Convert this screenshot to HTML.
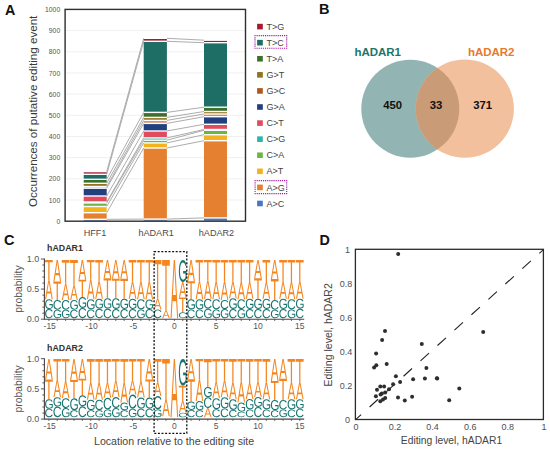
<!DOCTYPE html>
<html><head><meta charset="utf-8"><style>
html,body{margin:0;padding:0;background:#fff;}
svg{display:block;font-family:"Liberation Sans", sans-serif;}
</style></head><body>
<svg width="550" height="451" viewBox="0 0 550 451">
<defs><path id="gA" d="M856.4 1000 737.8 707.6H265.1L145.8 1000H0L423.4 -0H583.2L1000 1000ZM501.5 102.2 494.8 122.1Q476.4 181 440.4 273.2L307.8 601.8H695.9L562.6 271.8Q542 222.9 521.4 161.1Z"/><path id="gC" d="M530.5 107.6Q350 107.6 249.8 211.4Q149.6 315.2 149.6 495.9Q149.6 674.5 254 783.1Q358.5 891.7 536.6 891.7Q764.8 891.7 879.7 689.7L1000 743.4Q932.9 869 811.5 934.5Q690.1 1000 529.7 1000Q365.5 1000 245.6 939Q125.7 877.9 62.8 764.5Q0 651 0 495.9Q0 263.4 140.3 131.7Q280.6 0 528.9 0Q702.4 0 818.8 60.7Q935.2 121.4 990 240.7L850.4 282.1Q812.6 197.2 729 152.4Q645.3 107.6 530.5 107.6Z"/><path id="gG" d="M0 495.9Q0 259.3 137.6 129.7Q275.2 0 524.3 0Q699.3 0 808.5 54.5Q917.7 109 976.8 229L840.7 266.2Q795.8 183.4 716.9 145.5Q638 107.6 520.6 107.6Q338.1 107.6 241.6 209.3Q145.1 311 145.1 495.9Q145.1 680 247.6 786.6Q350 893.1 531 893.1Q634.3 893.1 723.6 864.1Q813 835.2 868.4 785.5V610.3H553.5V500H1000V835.2Q916.2 913.8 794.7 956.9Q673.1 1000 531 1000Q365.7 1000 246.1 939.3Q126.4 878.6 63.2 764.5Q0 650.3 0 495.9Z"/><path id="gT" d="M582 110.7V1000H418V110.7H0V-0H1000V110.7Z"/></defs>
<rect width="550" height="451" fill="#fff"/>
<line x1="65.1" y1="200.02" x2="245.5" y2="200.02" stroke="#ececec" stroke-width="0.8"/>
<line x1="65.1" y1="178.84" x2="245.5" y2="178.84" stroke="#ececec" stroke-width="0.8"/>
<line x1="65.1" y1="157.66" x2="245.5" y2="157.66" stroke="#ececec" stroke-width="0.8"/>
<line x1="65.1" y1="136.48" x2="245.5" y2="136.48" stroke="#ececec" stroke-width="0.8"/>
<line x1="65.1" y1="115.3" x2="245.5" y2="115.3" stroke="#ececec" stroke-width="0.8"/>
<line x1="65.1" y1="94.12" x2="245.5" y2="94.12" stroke="#ececec" stroke-width="0.8"/>
<line x1="65.1" y1="72.94" x2="245.5" y2="72.94" stroke="#ececec" stroke-width="0.8"/>
<line x1="65.1" y1="51.76" x2="245.5" y2="51.76" stroke="#ececec" stroke-width="0.8"/>
<line x1="65.1" y1="30.58" x2="245.5" y2="30.58" stroke="#ececec" stroke-width="0.8"/>
<line x1="106.7" y1="171.6" x2="143.7" y2="38.3" stroke="#a3a3a3" stroke-width="0.9"/>
<line x1="106.7" y1="174.3" x2="143.7" y2="41.3" stroke="#a3a3a3" stroke-width="0.9"/>
<line x1="106.7" y1="179.3" x2="143.7" y2="112.4" stroke="#a3a3a3" stroke-width="0.9"/>
<line x1="106.7" y1="183.3" x2="143.7" y2="117.4" stroke="#a3a3a3" stroke-width="0.9"/>
<line x1="106.7" y1="186.5" x2="143.7" y2="120.4" stroke="#a3a3a3" stroke-width="0.9"/>
<line x1="106.7" y1="188.2" x2="143.7" y2="123.4" stroke="#a3a3a3" stroke-width="0.9"/>
<line x1="106.7" y1="196" x2="143.7" y2="131" stroke="#a3a3a3" stroke-width="0.9"/>
<line x1="106.7" y1="202" x2="143.7" y2="137.9" stroke="#a3a3a3" stroke-width="0.9"/>
<line x1="106.7" y1="202.9" x2="143.7" y2="140.2" stroke="#a3a3a3" stroke-width="0.9"/>
<line x1="106.7" y1="206.5" x2="143.7" y2="142.9" stroke="#a3a3a3" stroke-width="0.9"/>
<line x1="106.7" y1="212.7" x2="143.7" y2="148" stroke="#a3a3a3" stroke-width="0.9"/>
<line x1="106.7" y1="219.3" x2="143.7" y2="219.1" stroke="#a3a3a3" stroke-width="0.9"/>
<line x1="166.9" y1="38.3" x2="204" y2="40.2" stroke="#a3a3a3" stroke-width="0.9"/>
<line x1="166.9" y1="41.3" x2="204" y2="42.7" stroke="#a3a3a3" stroke-width="0.9"/>
<line x1="166.9" y1="112.4" x2="204" y2="107.2" stroke="#a3a3a3" stroke-width="0.9"/>
<line x1="166.9" y1="117.4" x2="204" y2="111.5" stroke="#a3a3a3" stroke-width="0.9"/>
<line x1="166.9" y1="120.4" x2="204" y2="114" stroke="#a3a3a3" stroke-width="0.9"/>
<line x1="166.9" y1="123.4" x2="204" y2="116.7" stroke="#a3a3a3" stroke-width="0.9"/>
<line x1="166.9" y1="131" x2="204" y2="124.3" stroke="#a3a3a3" stroke-width="0.9"/>
<line x1="166.9" y1="137.9" x2="204" y2="129.5" stroke="#a3a3a3" stroke-width="0.9"/>
<line x1="166.9" y1="140.2" x2="204" y2="130.3" stroke="#a3a3a3" stroke-width="0.9"/>
<line x1="166.9" y1="142.9" x2="204" y2="134.7" stroke="#a3a3a3" stroke-width="0.9"/>
<line x1="166.9" y1="148" x2="204" y2="140.7" stroke="#a3a3a3" stroke-width="0.9"/>
<line x1="166.9" y1="219.1" x2="204" y2="217.9" stroke="#a3a3a3" stroke-width="0.9"/>
<rect x="83.7" y="172.3" width="23" height="1.3" fill="#a51b2d"/>
<rect x="83.7" y="175" width="23" height="3.6" fill="#1f6e66"/>
<rect x="83.7" y="180" width="23" height="2.6" fill="#3e6f2d"/>
<rect x="83.7" y="184" width="23" height="1.8" fill="#8f7222"/>
<rect x="83.7" y="187.2" width="23" height="0.3" fill="#d98a62"/>
<rect x="83.7" y="188.9" width="23" height="6.4" fill="#223f80"/>
<rect x="83.7" y="196.7" width="23" height="4.6" fill="#e04b5e"/>
<rect x="83.7" y="203.6" width="23" height="2.2" fill="#6cb645"/>
<rect x="83.7" y="207.2" width="23" height="4.8" fill="#f2b31f"/>
<rect x="83.7" y="213.4" width="23" height="5.2" fill="#e4802f"/>
<rect x="83.7" y="220" width="23" height="0.7" fill="#4677c6"/>
<rect x="143.7" y="39" width="23.2" height="1.6" fill="#a51b2d"/>
<rect x="143.7" y="42" width="23.2" height="69.7" fill="#1f6e66"/>
<rect x="143.7" y="113.1" width="23.2" height="3.6" fill="#3e6f2d"/>
<rect x="143.7" y="118.1" width="23.2" height="1.6" fill="#8f7222"/>
<rect x="143.7" y="121.1" width="23.2" height="1.6" fill="#d98a62"/>
<rect x="143.7" y="124.1" width="23.2" height="6.2" fill="#223f80"/>
<rect x="143.7" y="131.7" width="23.2" height="5.5" fill="#e04b5e"/>
<rect x="143.7" y="138.6" width="23.2" height="0.9" fill="#2bb5ad"/>
<rect x="143.7" y="140.9" width="23.2" height="1.3" fill="#6cb645"/>
<rect x="143.7" y="143.6" width="23.2" height="3.7" fill="#f2b31f"/>
<rect x="143.7" y="148.7" width="23.2" height="69.7" fill="#e4802f"/>
<rect x="143.7" y="219.8" width="23.2" height="0.9" fill="#4677c6"/>
<rect x="204" y="40.9" width="23" height="1.1" fill="#a51b2d"/>
<rect x="204" y="43.4" width="23" height="63.1" fill="#1f6e66"/>
<rect x="204" y="107.9" width="23" height="2.9" fill="#3e6f2d"/>
<rect x="204" y="112.2" width="23" height="1.1" fill="#8f7222"/>
<rect x="204" y="114.7" width="23" height="1.3" fill="#d98a62"/>
<rect x="204" y="117.4" width="23" height="6.2" fill="#223f80"/>
<rect x="204" y="125" width="23" height="3.8" fill="#e04b5e"/>
<rect x="204" y="131" width="23" height="3" fill="#6cb645"/>
<rect x="204" y="135.4" width="23" height="4.6" fill="#f2b31f"/>
<rect x="204" y="141.4" width="23" height="75.8" fill="#e4802f"/>
<rect x="204" y="218.6" width="23" height="2.1" fill="#4677c6"/>
<rect x="65.1" y="9.4" width="180.4" height="211.8" fill="none" stroke="#2e2e2e" stroke-width="1.4"/>
<text x="60.2" y="223.8" font-size="6.8" fill="#555" text-anchor="end">0</text>
<text x="60.2" y="202.62" font-size="6.8" fill="#555" text-anchor="end">100</text>
<text x="60.2" y="181.44" font-size="6.8" fill="#555" text-anchor="end">200</text>
<text x="60.2" y="160.26" font-size="6.8" fill="#555" text-anchor="end">300</text>
<text x="60.2" y="139.08" font-size="6.8" fill="#555" text-anchor="end">400</text>
<text x="60.2" y="117.9" font-size="6.8" fill="#555" text-anchor="end">500</text>
<text x="60.2" y="96.72" font-size="6.8" fill="#555" text-anchor="end">600</text>
<text x="60.2" y="75.54" font-size="6.8" fill="#555" text-anchor="end">700</text>
<text x="60.2" y="54.36" font-size="6.8" fill="#555" text-anchor="end">800</text>
<text x="60.2" y="33.18" font-size="6.8" fill="#555" text-anchor="end">900</text>
<text x="60.2" y="12" font-size="6.8" fill="#555" text-anchor="end">1000</text>
<text transform="translate(37.3 111.4) rotate(-90)" font-size="11.6" fill="#3a3a3a" text-anchor="middle">Occurrences of putative editing event</text>
<text x="95" y="235.9" font-size="9.1" fill="#4a4a4a" text-anchor="middle">HFF1</text>
<text x="156.1" y="235.9" font-size="9.1" fill="#4a4a4a" text-anchor="middle">hADAR1</text>
<text x="216.5" y="235.9" font-size="9.1" fill="#4a4a4a" text-anchor="middle">hADAR2</text>
<rect x="257.1" y="23.8" width="5.7" height="5.6" fill="#a51b2d"/>
<text x="266.6" y="29.7" font-size="9" fill="#444">T&gt;G</text>
<rect x="257.1" y="39.88" width="5.7" height="5.6" fill="#1f6e66"/>
<text x="266.6" y="45.78" font-size="9" fill="#444">T&gt;C</text>
<rect x="257.1" y="55.96" width="5.7" height="5.6" fill="#3e6f2d"/>
<text x="266.6" y="61.86" font-size="9" fill="#444">T&gt;A</text>
<rect x="257.1" y="72.04" width="5.7" height="5.6" fill="#8f7222"/>
<text x="266.6" y="77.94" font-size="9" fill="#444">G&gt;T</text>
<rect x="257.1" y="88.12" width="5.7" height="5.6" fill="#b0581f"/>
<text x="266.6" y="94.02" font-size="9" fill="#444">G&gt;C</text>
<rect x="257.1" y="104.2" width="5.7" height="5.6" fill="#223f80"/>
<text x="266.6" y="110.1" font-size="9" fill="#444">G&gt;A</text>
<rect x="257.1" y="120.28" width="5.7" height="5.6" fill="#e04b5e"/>
<text x="266.6" y="126.18" font-size="9" fill="#444">C&gt;T</text>
<rect x="257.1" y="136.36" width="5.7" height="5.6" fill="#2bb5ad"/>
<text x="266.6" y="142.26" font-size="9" fill="#444">C&gt;G</text>
<rect x="257.1" y="152.44" width="5.7" height="5.6" fill="#6cb645"/>
<text x="266.6" y="158.34" font-size="9" fill="#444">C&gt;A</text>
<rect x="257.1" y="168.52" width="5.7" height="5.6" fill="#f2b31f"/>
<text x="266.6" y="174.42" font-size="9" fill="#444">A&gt;T</text>
<rect x="257.1" y="184.6" width="5.7" height="5.6" fill="#e4802f"/>
<text x="266.6" y="190.5" font-size="9" fill="#444">A&gt;G</text>
<rect x="257.1" y="200.68" width="5.7" height="5.6" fill="#4677c6"/>
<text x="266.6" y="206.58" font-size="9" fill="#444">A&gt;C</text>
<path d="M254.43 35.12h1.15v1.15h-1.15zM254.43 47.72h1.15v1.15h-1.15zM256.54 35.12h1.15v1.15h-1.15zM256.54 47.72h1.15v1.15h-1.15zM258.65 35.12h1.15v1.15h-1.15zM258.65 47.72h1.15v1.15h-1.15zM260.76 35.12h1.15v1.15h-1.15zM260.76 47.72h1.15v1.15h-1.15zM262.88 35.12h1.15v1.15h-1.15zM262.88 47.72h1.15v1.15h-1.15zM264.99 35.12h1.15v1.15h-1.15zM264.99 47.72h1.15v1.15h-1.15zM267.11 35.12h1.15v1.15h-1.15zM267.11 47.72h1.15v1.15h-1.15zM269.22 35.12h1.15v1.15h-1.15zM269.22 47.72h1.15v1.15h-1.15zM271.33 35.12h1.15v1.15h-1.15zM271.33 47.72h1.15v1.15h-1.15zM273.44 35.12h1.15v1.15h-1.15zM273.44 47.72h1.15v1.15h-1.15zM275.56 35.12h1.15v1.15h-1.15zM275.56 47.72h1.15v1.15h-1.15zM277.67 35.12h1.15v1.15h-1.15zM277.67 47.72h1.15v1.15h-1.15zM279.79 35.12h1.15v1.15h-1.15zM279.79 47.72h1.15v1.15h-1.15zM281.9 35.12h1.15v1.15h-1.15zM281.9 47.72h1.15v1.15h-1.15zM284.01 35.12h1.15v1.15h-1.15zM284.01 47.72h1.15v1.15h-1.15zM286.12 35.12h1.15v1.15h-1.15zM286.12 47.72h1.15v1.15h-1.15zM254.43 37.23h1.15v1.15h-1.15zM286.12 37.23h1.15v1.15h-1.15zM254.43 39.32h1.15v1.15h-1.15zM286.12 39.32h1.15v1.15h-1.15zM254.43 41.42h1.15v1.15h-1.15zM286.12 41.42h1.15v1.15h-1.15zM254.43 43.52h1.15v1.15h-1.15zM286.12 43.52h1.15v1.15h-1.15zM254.43 45.62h1.15v1.15h-1.15zM286.12 45.62h1.15v1.15h-1.15z" fill="#a3199f"/>
<path d="M254.53 180.12h1.15v1.15h-1.15zM254.53 193.12h1.15v1.15h-1.15zM256.63 180.12h1.15v1.15h-1.15zM256.63 193.12h1.15v1.15h-1.15zM258.74 180.12h1.15v1.15h-1.15zM258.74 193.12h1.15v1.15h-1.15zM260.85 180.12h1.15v1.15h-1.15zM260.85 193.12h1.15v1.15h-1.15zM262.95 180.12h1.15v1.15h-1.15zM262.95 193.12h1.15v1.15h-1.15zM265.06 180.12h1.15v1.15h-1.15zM265.06 193.12h1.15v1.15h-1.15zM267.17 180.12h1.15v1.15h-1.15zM267.17 193.12h1.15v1.15h-1.15zM269.27 180.12h1.15v1.15h-1.15zM269.27 193.12h1.15v1.15h-1.15zM271.38 180.12h1.15v1.15h-1.15zM271.38 193.12h1.15v1.15h-1.15zM273.49 180.12h1.15v1.15h-1.15zM273.49 193.12h1.15v1.15h-1.15zM275.59 180.12h1.15v1.15h-1.15zM275.59 193.12h1.15v1.15h-1.15zM277.7 180.12h1.15v1.15h-1.15zM277.7 193.12h1.15v1.15h-1.15zM279.81 180.12h1.15v1.15h-1.15zM279.81 193.12h1.15v1.15h-1.15zM281.91 180.12h1.15v1.15h-1.15zM281.91 193.12h1.15v1.15h-1.15zM284.02 180.12h1.15v1.15h-1.15zM284.02 193.12h1.15v1.15h-1.15zM286.12 180.12h1.15v1.15h-1.15zM286.12 193.12h1.15v1.15h-1.15zM254.53 182.29h1.15v1.15h-1.15zM286.12 182.29h1.15v1.15h-1.15zM254.53 184.46h1.15v1.15h-1.15zM286.12 184.46h1.15v1.15h-1.15zM254.53 186.62h1.15v1.15h-1.15zM286.12 186.62h1.15v1.15h-1.15zM254.53 188.79h1.15v1.15h-1.15zM286.12 188.79h1.15v1.15h-1.15zM254.53 190.96h1.15v1.15h-1.15zM286.12 190.96h1.15v1.15h-1.15z" fill="#a3199f"/>
<text x="4.9" y="14.6" font-size="14.3" font-weight="bold" fill="#111">A</text>
<text x="319.1" y="14.4" font-size="14.5" font-weight="bold" fill="#111">B</text>
<circle cx="410.3" cy="108.7" r="49.0" fill="#92b5b3"/>
<circle cx="464.8" cy="108.7" r="49.1" fill="#f3c09e"/>
<clipPath id="clipL"><circle cx="410.3" cy="108.7" r="49.0"/></clipPath>
<circle cx="464.8" cy="108.7" r="49.1" fill="#c99c77" clip-path="url(#clipL)"/>
<text x="377.7" y="55.6" font-size="11.5" font-weight="bold" fill="#1d7469" text-anchor="middle">hADAR1</text>
<text x="491.2" y="55.6" font-size="11.5" font-weight="bold" fill="#e77a2c" text-anchor="middle">hADAR2</text>
<text x="392.6" y="109.4" font-size="11.3" font-weight="bold" fill="#111" text-anchor="middle">450</text>
<text x="436.0" y="109.4" font-size="11.3" font-weight="bold" fill="#111" text-anchor="middle">33</text>
<text x="482.7" y="109.4" font-size="11.3" font-weight="bold" fill="#111" text-anchor="middle">371</text>
<text x="4.0" y="244.9" font-size="14.5" font-weight="bold" fill="#111">C</text>
<use href="#gT" fill="#f5861f" transform="matrix(0.00770 0 0 0.02005 45.05 260.1)"/>
<use href="#gA" fill="#f5861f" transform="matrix(0.00770 0 0 0.01903 45.05 280.15)"/>
<use href="#gG" fill="#177571" transform="matrix(0.00770 0 0 0.00981 45.05 299.17)"/>
<use href="#gC" fill="#177571" transform="matrix(0.00770 0 0 0.00922 45.05 308.98)"/>
<use href="#gA" fill="#f5861f" transform="matrix(0.00770 0 0 0.02151 53.41 260.1)"/>
<use href="#gT" fill="#f5861f" transform="matrix(0.00770 0 0 0.01829 53.41 281.61)"/>
<use href="#gC" fill="#177571" transform="matrix(0.00770 0 0 0.00981 53.41 299.9)"/>
<use href="#gG" fill="#177571" transform="matrix(0.00770 0 0 0.00849 53.41 309.71)"/>
<use href="#gT" fill="#f5861f" transform="matrix(0.00770 0 0 0.02371 61.78 260.1)"/>
<use href="#gA" fill="#f5861f" transform="matrix(0.00770 0 0 0.01610 61.78 283.81)"/>
<use href="#gC" fill="#177571" transform="matrix(0.00770 0 0 0.00981 61.78 299.9)"/>
<use href="#gG" fill="#177571" transform="matrix(0.00770 0 0 0.00849 61.78 309.71)"/>
<use href="#gT" fill="#f5861f" transform="matrix(0.00770 0 0 0.02517 70.14 260.1)"/>
<use href="#gA" fill="#f5861f" transform="matrix(0.00770 0 0 0.01463 70.14 285.27)"/>
<use href="#gG" fill="#177571" transform="matrix(0.00770 0 0 0.00981 70.14 299.9)"/>
<use href="#gC" fill="#177571" transform="matrix(0.00770 0 0 0.00849 70.14 309.71)"/>
<use href="#gA" fill="#f5861f" transform="matrix(0.00770 0 0 0.01961 78.5 260.1)"/>
<use href="#gT" fill="#f5861f" transform="matrix(0.00770 0 0 0.01727 78.5 279.71)"/>
<use href="#gG" fill="#177571" transform="matrix(0.00770 0 0 0.01098 78.5 296.98)"/>
<use href="#gC" fill="#177571" transform="matrix(0.00770 0 0 0.01024 78.5 307.95)"/>
<use href="#gT" fill="#f5861f" transform="matrix(0.00770 0 0 0.01961 86.87 260.1)"/>
<use href="#gA" fill="#f5861f" transform="matrix(0.00770 0 0 0.01946 86.87 279.71)"/>
<use href="#gG" fill="#177571" transform="matrix(0.00770 0 0 0.01024 86.87 299.17)"/>
<use href="#gC" fill="#177571" transform="matrix(0.00770 0 0 0.00878 86.87 309.42)"/>
<use href="#gT" fill="#f5861f" transform="matrix(0.00770 0 0 0.02107 95.23 260.1)"/>
<use href="#gA" fill="#f5861f" transform="matrix(0.00770 0 0 0.01756 95.23 281.17)"/>
<use href="#gG" fill="#177571" transform="matrix(0.00770 0 0 0.00995 95.23 298.73)"/>
<use href="#gC" fill="#177571" transform="matrix(0.00770 0 0 0.00951 95.23 308.69)"/>
<use href="#gA" fill="#f5861f" transform="matrix(0.00770 0 0 0.01815 103.59 260.1)"/>
<use href="#gT" fill="#f5861f" transform="matrix(0.00770 0 0 0.01990 103.59 278.24)"/>
<use href="#gG" fill="#177571" transform="matrix(0.00770 0 0 0.01054 103.59 298.15)"/>
<use href="#gC" fill="#177571" transform="matrix(0.00770 0 0 0.00951 103.59 308.69)"/>
<use href="#gA" fill="#f5861f" transform="matrix(0.00770 0 0 0.01859 111.95 260.1)"/>
<use href="#gT" fill="#f5861f" transform="matrix(0.00770 0 0 0.01946 111.95 278.68)"/>
<use href="#gG" fill="#177571" transform="matrix(0.00770 0 0 0.01083 111.95 298.15)"/>
<use href="#gC" fill="#177571" transform="matrix(0.00770 0 0 0.00922 111.95 308.98)"/>
<use href="#gA" fill="#f5861f" transform="matrix(0.00770 0 0 0.01859 120.32 260.1)"/>
<use href="#gT" fill="#f5861f" transform="matrix(0.00770 0 0 0.02005 120.32 278.68)"/>
<use href="#gG" fill="#177571" transform="matrix(0.00770 0 0 0.01024 120.32 298.73)"/>
<use href="#gC" fill="#177571" transform="matrix(0.00770 0 0 0.00922 120.32 308.98)"/>
<use href="#gT" fill="#f5861f" transform="matrix(0.00770 0 0 0.02151 128.68 260.1)"/>
<use href="#gA" fill="#f5861f" transform="matrix(0.00770 0 0 0.01712 128.68 281.61)"/>
<use href="#gG" fill="#177571" transform="matrix(0.00770 0 0 0.01024 128.68 298.73)"/>
<use href="#gC" fill="#177571" transform="matrix(0.00770 0 0 0.00922 128.68 308.98)"/>
<use href="#gT" fill="#f5861f" transform="matrix(0.00770 0 0 0.02151 137.04 260.1)"/>
<use href="#gA" fill="#f5861f" transform="matrix(0.00770 0 0 0.01756 137.04 281.61)"/>
<use href="#gC" fill="#177571" transform="matrix(0.00770 0 0 0.01024 137.04 299.17)"/>
<use href="#gG" fill="#177571" transform="matrix(0.00770 0 0 0.00878 137.04 309.42)"/>
<use href="#gT" fill="#f5861f" transform="matrix(0.00770 0 0 0.02151 145.41 260.1)"/>
<use href="#gA" fill="#f5861f" transform="matrix(0.00770 0 0 0.01800 145.41 281.61)"/>
<use href="#gG" fill="#177571" transform="matrix(0.00770 0 0 0.00937 145.41 299.61)"/>
<use href="#gC" fill="#177571" transform="matrix(0.00770 0 0 0.00922 145.41 308.98)"/>
<use href="#gT" fill="#f5861f" transform="matrix(0.00770 0 0 0.03834 153.77 260.1)"/>
<use href="#gA" fill="#f5861f" transform="matrix(0.00770 0 0 0.01098 153.77 298.44)"/>
<use href="#gC" fill="#177571" transform="matrix(0.00770 0 0 0.00878 153.77 309.42)"/>
<use href="#gT" fill="#f5861f" transform="matrix(0.00770 0 0 0.05005 162.13 260.1)"/>
<use href="#gA" fill="#f5861f" transform="matrix(0.00770 0 0 0.00805 162.13 310.15)"/>
<use href="#gA" fill="#f5861f" transform="matrix(0.00770 0 0 0.05810 170.5 260.1)"/>
<use href="#gG" fill="#177571" transform="matrix(0.00770 0 0 0.02195 178.86 260.1)"/>
<use href="#gA" fill="#f5861f" transform="matrix(0.00770 0 0 0.01537 178.86 282.05)"/>
<use href="#gT" fill="#f5861f" transform="matrix(0.00770 0 0 0.01493 178.86 297.42)"/>
<use href="#gC" fill="#177571" transform="matrix(0.00770 0 0 0.00585 178.86 312.34)"/>
<use href="#gA" fill="#f5861f" transform="matrix(0.00770 0 0 0.02107 187.22 260.1)"/>
<use href="#gT" fill="#f5861f" transform="matrix(0.00770 0 0 0.01800 187.22 281.17)"/>
<use href="#gG" fill="#177571" transform="matrix(0.00770 0 0 0.01024 187.22 299.17)"/>
<use href="#gC" fill="#177571" transform="matrix(0.00770 0 0 0.00878 187.22 309.42)"/>
<use href="#gT" fill="#f5861f" transform="matrix(0.00770 0 0 0.02107 195.58 260.1)"/>
<use href="#gA" fill="#f5861f" transform="matrix(0.00770 0 0 0.01800 195.58 281.17)"/>
<use href="#gG" fill="#177571" transform="matrix(0.00770 0 0 0.01024 195.58 299.17)"/>
<use href="#gC" fill="#177571" transform="matrix(0.00770 0 0 0.00878 195.58 309.42)"/>
<use href="#gT" fill="#f5861f" transform="matrix(0.00770 0 0 0.02049 203.95 260.1)"/>
<use href="#gA" fill="#f5861f" transform="matrix(0.00770 0 0 0.01815 203.95 280.59)"/>
<use href="#gC" fill="#177571" transform="matrix(0.00770 0 0 0.00995 203.95 298.73)"/>
<use href="#gG" fill="#177571" transform="matrix(0.00770 0 0 0.00951 203.95 308.69)"/>
<use href="#gT" fill="#f5861f" transform="matrix(0.00770 0 0 0.02151 212.31 260.1)"/>
<use href="#gA" fill="#f5861f" transform="matrix(0.00770 0 0 0.01756 212.31 281.61)"/>
<use href="#gC" fill="#177571" transform="matrix(0.00770 0 0 0.01024 212.31 299.17)"/>
<use href="#gG" fill="#177571" transform="matrix(0.00770 0 0 0.00878 212.31 309.42)"/>
<use href="#gT" fill="#f5861f" transform="matrix(0.00770 0 0 0.02151 220.67 260.1)"/>
<use href="#gA" fill="#f5861f" transform="matrix(0.00770 0 0 0.01829 220.67 281.61)"/>
<use href="#gC" fill="#177571" transform="matrix(0.00770 0 0 0.00907 220.67 299.9)"/>
<use href="#gG" fill="#177571" transform="matrix(0.00770 0 0 0.00922 220.67 308.98)"/>
<use href="#gT" fill="#f5861f" transform="matrix(0.00770 0 0 0.02151 229.04 260.1)"/>
<use href="#gA" fill="#f5861f" transform="matrix(0.00770 0 0 0.01654 229.04 281.61)"/>
<use href="#gG" fill="#177571" transform="matrix(0.00770 0 0 0.01083 229.04 298.15)"/>
<use href="#gC" fill="#177571" transform="matrix(0.00770 0 0 0.00922 229.04 308.98)"/>
<use href="#gT" fill="#f5861f" transform="matrix(0.00770 0 0 0.02195 237.4 260.1)"/>
<use href="#gA" fill="#f5861f" transform="matrix(0.00770 0 0 0.01712 237.4 282.05)"/>
<use href="#gC" fill="#177571" transform="matrix(0.00770 0 0 0.00981 237.4 299.17)"/>
<use href="#gG" fill="#177571" transform="matrix(0.00770 0 0 0.00922 237.4 308.98)"/>
<use href="#gT" fill="#f5861f" transform="matrix(0.00770 0 0 0.02195 245.76 260.1)"/>
<use href="#gA" fill="#f5861f" transform="matrix(0.00770 0 0 0.01668 245.76 282.05)"/>
<use href="#gG" fill="#177571" transform="matrix(0.00770 0 0 0.01024 245.76 298.73)"/>
<use href="#gC" fill="#177571" transform="matrix(0.00770 0 0 0.00922 245.76 308.98)"/>
<use href="#gA" fill="#f5861f" transform="matrix(0.00770 0 0 0.01815 254.12 260.1)"/>
<use href="#gT" fill="#f5861f" transform="matrix(0.00770 0 0 0.02049 254.12 278.24)"/>
<use href="#gG" fill="#177571" transform="matrix(0.00770 0 0 0.01024 254.12 298.73)"/>
<use href="#gC" fill="#177571" transform="matrix(0.00770 0 0 0.00922 254.12 308.98)"/>
<use href="#gT" fill="#f5861f" transform="matrix(0.00770 0 0 0.02195 262.49 260.1)"/>
<use href="#gA" fill="#f5861f" transform="matrix(0.00770 0 0 0.01668 262.49 282.05)"/>
<use href="#gG" fill="#177571" transform="matrix(0.00770 0 0 0.01024 262.49 298.73)"/>
<use href="#gC" fill="#177571" transform="matrix(0.00770 0 0 0.00922 262.49 308.98)"/>
<use href="#gA" fill="#f5861f" transform="matrix(0.00770 0 0 0.01903 270.85 260.1)"/>
<use href="#gT" fill="#f5861f" transform="matrix(0.00770 0 0 0.02078 270.85 279.12)"/>
<use href="#gC" fill="#177571" transform="matrix(0.00770 0 0 0.00981 270.85 299.9)"/>
<use href="#gG" fill="#177571" transform="matrix(0.00770 0 0 0.00849 270.85 309.71)"/>
<use href="#gT" fill="#f5861f" transform="matrix(0.00770 0 0 0.02195 279.21 260.1)"/>
<use href="#gA" fill="#f5861f" transform="matrix(0.00770 0 0 0.01668 279.21 282.05)"/>
<use href="#gG" fill="#177571" transform="matrix(0.00770 0 0 0.01024 279.21 298.73)"/>
<use href="#gC" fill="#177571" transform="matrix(0.00770 0 0 0.00922 279.21 308.98)"/>
<use href="#gT" fill="#f5861f" transform="matrix(0.00770 0 0 0.02195 287.58 260.1)"/>
<use href="#gA" fill="#f5861f" transform="matrix(0.00770 0 0 0.01712 287.58 282.05)"/>
<use href="#gC" fill="#177571" transform="matrix(0.00770 0 0 0.01024 287.58 299.17)"/>
<use href="#gG" fill="#177571" transform="matrix(0.00770 0 0 0.00878 287.58 309.42)"/>
<use href="#gT" fill="#f5861f" transform="matrix(0.00770 0 0 0.02107 295.94 260.1)"/>
<use href="#gA" fill="#f5861f" transform="matrix(0.00770 0 0 0.01756 295.94 281.17)"/>
<use href="#gG" fill="#177571" transform="matrix(0.00770 0 0 0.00995 295.94 298.73)"/>
<use href="#gC" fill="#177571" transform="matrix(0.00770 0 0 0.00951 295.94 308.69)"/>
<line x1="44.4" y1="258.5" x2="44.4" y2="319.2" stroke="#4d4242" stroke-width="1.1"/>
<line x1="43.9" y1="319.2" x2="304.2" y2="319.2" stroke="#4d4242" stroke-width="1.1"/>
<line x1="40.9" y1="319.2" x2="44.4" y2="319.2" stroke="#4d4242" stroke-width="0.9"/>
<line x1="42.4" y1="313.18" x2="44.4" y2="313.18" stroke="#4d4242" stroke-width="0.9"/>
<line x1="42.4" y1="307.16" x2="44.4" y2="307.16" stroke="#4d4242" stroke-width="0.9"/>
<line x1="42.4" y1="301.14" x2="44.4" y2="301.14" stroke="#4d4242" stroke-width="0.9"/>
<line x1="42.4" y1="295.12" x2="44.4" y2="295.12" stroke="#4d4242" stroke-width="0.9"/>
<line x1="40.9" y1="289.1" x2="44.4" y2="289.1" stroke="#4d4242" stroke-width="0.9"/>
<line x1="42.4" y1="283.08" x2="44.4" y2="283.08" stroke="#4d4242" stroke-width="0.9"/>
<line x1="42.4" y1="277.06" x2="44.4" y2="277.06" stroke="#4d4242" stroke-width="0.9"/>
<line x1="42.4" y1="271.04" x2="44.4" y2="271.04" stroke="#4d4242" stroke-width="0.9"/>
<line x1="42.4" y1="265.02" x2="44.4" y2="265.02" stroke="#4d4242" stroke-width="0.9"/>
<line x1="40.9" y1="259" x2="44.4" y2="259" stroke="#4d4242" stroke-width="0.9"/>
<line x1="48.9" y1="319.2" x2="48.9" y2="321" stroke="#4d4242" stroke-width="0.8"/>
<line x1="57.26" y1="319.2" x2="57.26" y2="321" stroke="#4d4242" stroke-width="0.8"/>
<line x1="65.63" y1="319.2" x2="65.63" y2="321" stroke="#4d4242" stroke-width="0.8"/>
<line x1="73.99" y1="319.2" x2="73.99" y2="321" stroke="#4d4242" stroke-width="0.8"/>
<line x1="82.35" y1="319.2" x2="82.35" y2="321" stroke="#4d4242" stroke-width="0.8"/>
<line x1="90.72" y1="319.2" x2="90.72" y2="321" stroke="#4d4242" stroke-width="0.8"/>
<line x1="99.08" y1="319.2" x2="99.08" y2="321" stroke="#4d4242" stroke-width="0.8"/>
<line x1="107.44" y1="319.2" x2="107.44" y2="321" stroke="#4d4242" stroke-width="0.8"/>
<line x1="115.8" y1="319.2" x2="115.8" y2="321" stroke="#4d4242" stroke-width="0.8"/>
<line x1="124.17" y1="319.2" x2="124.17" y2="321" stroke="#4d4242" stroke-width="0.8"/>
<line x1="132.53" y1="319.2" x2="132.53" y2="321" stroke="#4d4242" stroke-width="0.8"/>
<line x1="140.89" y1="319.2" x2="140.89" y2="321" stroke="#4d4242" stroke-width="0.8"/>
<line x1="149.26" y1="319.2" x2="149.26" y2="321" stroke="#4d4242" stroke-width="0.8"/>
<line x1="157.62" y1="319.2" x2="157.62" y2="321" stroke="#4d4242" stroke-width="0.8"/>
<line x1="165.98" y1="319.2" x2="165.98" y2="321" stroke="#4d4242" stroke-width="0.8"/>
<line x1="174.34" y1="319.2" x2="174.34" y2="321" stroke="#4d4242" stroke-width="0.8"/>
<line x1="182.71" y1="319.2" x2="182.71" y2="321" stroke="#4d4242" stroke-width="0.8"/>
<line x1="191.07" y1="319.2" x2="191.07" y2="321" stroke="#4d4242" stroke-width="0.8"/>
<line x1="199.43" y1="319.2" x2="199.43" y2="321" stroke="#4d4242" stroke-width="0.8"/>
<line x1="207.8" y1="319.2" x2="207.8" y2="321" stroke="#4d4242" stroke-width="0.8"/>
<line x1="216.16" y1="319.2" x2="216.16" y2="321" stroke="#4d4242" stroke-width="0.8"/>
<line x1="224.52" y1="319.2" x2="224.52" y2="321" stroke="#4d4242" stroke-width="0.8"/>
<line x1="232.89" y1="319.2" x2="232.89" y2="321" stroke="#4d4242" stroke-width="0.8"/>
<line x1="241.25" y1="319.2" x2="241.25" y2="321" stroke="#4d4242" stroke-width="0.8"/>
<line x1="249.61" y1="319.2" x2="249.61" y2="321" stroke="#4d4242" stroke-width="0.8"/>
<line x1="257.97" y1="319.2" x2="257.97" y2="321" stroke="#4d4242" stroke-width="0.8"/>
<line x1="266.34" y1="319.2" x2="266.34" y2="321" stroke="#4d4242" stroke-width="0.8"/>
<line x1="274.7" y1="319.2" x2="274.7" y2="321" stroke="#4d4242" stroke-width="0.8"/>
<line x1="283.06" y1="319.2" x2="283.06" y2="321" stroke="#4d4242" stroke-width="0.8"/>
<line x1="291.43" y1="319.2" x2="291.43" y2="321" stroke="#4d4242" stroke-width="0.8"/>
<line x1="299.79" y1="319.2" x2="299.79" y2="321" stroke="#4d4242" stroke-width="0.8"/>
<text x="39.2" y="322.4" font-size="9" fill="#555" text-anchor="end">0.0</text>
<text x="39.2" y="292.3" font-size="9" fill="#555" text-anchor="end">0.5</text>
<text x="39.2" y="262.2" font-size="9" fill="#555" text-anchor="end">1.0</text>
<text x="49.7" y="329.3" font-size="8.5" fill="#555" text-anchor="middle">-15</text>
<text x="91.52" y="329.3" font-size="8.5" fill="#555" text-anchor="middle">-10</text>
<text x="133.33" y="329.3" font-size="8.5" fill="#555" text-anchor="middle">-5</text>
<text x="174.34" y="329.3" font-size="8.5" fill="#555" text-anchor="middle">0</text>
<text x="216.16" y="329.3" font-size="8.5" fill="#555" text-anchor="middle">5</text>
<text x="257.97" y="329.3" font-size="8.5" fill="#555" text-anchor="middle">10</text>
<text x="299.79" y="329.3" font-size="8.5" fill="#555" text-anchor="middle">15</text>
<text transform="translate(21.8 289.1) rotate(-90)" font-size="10.4" fill="#555" text-anchor="middle">probability</text>
<text x="47.1" y="250.8" font-size="8.8" font-weight="bold" fill="#333">hADAR1</text>
<use href="#gA" fill="#f5861f" transform="matrix(0.00770 0 0 0.02049 45.05 359.1)"/>
<use href="#gT" fill="#f5861f" transform="matrix(0.00770 0 0 0.01961 45.05 379.59)"/>
<use href="#gG" fill="#177571" transform="matrix(0.00770 0 0 0.00951 45.05 399.2)"/>
<use href="#gC" fill="#177571" transform="matrix(0.00770 0 0 0.00849 45.05 408.71)"/>
<use href="#gT" fill="#f5861f" transform="matrix(0.00770 0 0 0.02078 53.41 359.1)"/>
<use href="#gA" fill="#f5861f" transform="matrix(0.00770 0 0 0.01727 53.41 379.88)"/>
<use href="#gG" fill="#177571" transform="matrix(0.00770 0 0 0.00937 53.41 397.15)"/>
<use href="#gC" fill="#177571" transform="matrix(0.00770 0 0 0.01068 53.41 406.51)"/>
<use href="#gT" fill="#f5861f" transform="matrix(0.00770 0 0 0.02195 61.78 359.1)"/>
<use href="#gA" fill="#f5861f" transform="matrix(0.00770 0 0 0.01712 61.78 381.05)"/>
<use href="#gC" fill="#177571" transform="matrix(0.00770 0 0 0.00981 61.78 398.17)"/>
<use href="#gG" fill="#177571" transform="matrix(0.00770 0 0 0.00922 61.78 407.98)"/>
<use href="#gA" fill="#f5861f" transform="matrix(0.00770 0 0 0.02078 70.14 359.1)"/>
<use href="#gT" fill="#f5861f" transform="matrix(0.00770 0 0 0.01829 70.14 379.88)"/>
<use href="#gG" fill="#177571" transform="matrix(0.00770 0 0 0.01200 70.14 398.17)"/>
<use href="#gC" fill="#177571" transform="matrix(0.00770 0 0 0.00702 70.14 410.17)"/>
<use href="#gA" fill="#f5861f" transform="matrix(0.00770 0 0 0.01961 78.5 359.1)"/>
<use href="#gT" fill="#f5861f" transform="matrix(0.00770 0 0 0.01654 78.5 378.71)"/>
<use href="#gG" fill="#177571" transform="matrix(0.00770 0 0 0.01098 78.5 395.25)"/>
<use href="#gC" fill="#177571" transform="matrix(0.00770 0 0 0.01098 78.5 406.22)"/>
<use href="#gT" fill="#f5861f" transform="matrix(0.00770 0 0 0.02327 86.87 359.1)"/>
<use href="#gA" fill="#f5861f" transform="matrix(0.00770 0 0 0.01727 86.87 382.37)"/>
<use href="#gG" fill="#177571" transform="matrix(0.00770 0 0 0.01054 86.87 399.64)"/>
<use href="#gC" fill="#177571" transform="matrix(0.00770 0 0 0.00702 86.87 410.17)"/>
<use href="#gT" fill="#f5861f" transform="matrix(0.00770 0 0 0.02327 95.23 359.1)"/>
<use href="#gA" fill="#f5861f" transform="matrix(0.00770 0 0 0.01727 95.23 382.37)"/>
<use href="#gC" fill="#177571" transform="matrix(0.00770 0 0 0.01054 95.23 399.64)"/>
<use href="#gG" fill="#177571" transform="matrix(0.00770 0 0 0.00702 95.23 410.17)"/>
<use href="#gT" fill="#f5861f" transform="matrix(0.00770 0 0 0.02327 103.59 359.1)"/>
<use href="#gA" fill="#f5861f" transform="matrix(0.00770 0 0 0.01537 103.59 382.37)"/>
<use href="#gC" fill="#177571" transform="matrix(0.00770 0 0 0.01171 103.59 397.73)"/>
<use href="#gG" fill="#177571" transform="matrix(0.00770 0 0 0.00776 103.59 409.44)"/>
<use href="#gT" fill="#f5861f" transform="matrix(0.00770 0 0 0.02107 111.95 359.1)"/>
<use href="#gA" fill="#f5861f" transform="matrix(0.00770 0 0 0.01683 111.95 380.17)"/>
<use href="#gC" fill="#177571" transform="matrix(0.00770 0 0 0.01098 111.95 397)"/>
<use href="#gG" fill="#177571" transform="matrix(0.00770 0 0 0.00922 111.95 407.98)"/>
<use href="#gT" fill="#f5861f" transform="matrix(0.00770 0 0 0.02327 120.32 359.1)"/>
<use href="#gA" fill="#f5861f" transform="matrix(0.00770 0 0 0.02020 120.32 382.37)"/>
<use href="#gG" fill="#177571" transform="matrix(0.00770 0 0 0.00761 120.32 402.56)"/>
<use href="#gC" fill="#177571" transform="matrix(0.00770 0 0 0.00702 120.32 410.17)"/>
<use href="#gT" fill="#f5861f" transform="matrix(0.00770 0 0 0.02107 128.68 359.1)"/>
<use href="#gA" fill="#f5861f" transform="matrix(0.00770 0 0 0.01434 128.68 380.17)"/>
<use href="#gC" fill="#177571" transform="matrix(0.00770 0 0 0.01420 128.68 394.51)"/>
<use href="#gG" fill="#177571" transform="matrix(0.00770 0 0 0.00849 128.68 408.71)"/>
<use href="#gT" fill="#f5861f" transform="matrix(0.00770 0 0 0.02181 137.04 359.1)"/>
<use href="#gA" fill="#f5861f" transform="matrix(0.00770 0 0 0.01654 137.04 380.9)"/>
<use href="#gG" fill="#177571" transform="matrix(0.00770 0 0 0.01127 137.04 397.44)"/>
<use href="#gC" fill="#177571" transform="matrix(0.00770 0 0 0.00849 137.04 408.71)"/>
<use href="#gA" fill="#f5861f" transform="matrix(0.00770 0 0 0.02034 145.41 359.1)"/>
<use href="#gT" fill="#f5861f" transform="matrix(0.00770 0 0 0.01800 145.41 379.44)"/>
<use href="#gG" fill="#177571" transform="matrix(0.00770 0 0 0.01127 145.41 397.44)"/>
<use href="#gC" fill="#177571" transform="matrix(0.00770 0 0 0.00849 145.41 408.71)"/>
<use href="#gT" fill="#f5861f" transform="matrix(0.00770 0 0 0.02327 153.77 359.1)"/>
<use href="#gA" fill="#f5861f" transform="matrix(0.00770 0 0 0.01361 153.77 382.37)"/>
<use href="#gC" fill="#177571" transform="matrix(0.00770 0 0 0.01346 153.77 395.98)"/>
<use href="#gG" fill="#177571" transform="matrix(0.00770 0 0 0.00776 153.77 409.44)"/>
<use href="#gT" fill="#f5861f" transform="matrix(0.00770 0 0 0.03981 162.13 359.1)"/>
<use href="#gA" fill="#f5861f" transform="matrix(0.00770 0 0 0.01727 162.13 398.9)"/>
<use href="#gA" fill="#f5861f" transform="matrix(0.00770 0 0 0.05810 170.5 359.1)"/>
<use href="#gG" fill="#177571" transform="matrix(0.00770 0 0 0.02664 178.86 359.1)"/>
<use href="#gT" fill="#f5861f" transform="matrix(0.00770 0 0 0.01493 178.86 385.73)"/>
<use href="#gA" fill="#f5861f" transform="matrix(0.00770 0 0 0.01215 178.86 400.66)"/>
<use href="#gC" fill="#177571" transform="matrix(0.00770 0 0 0.00439 178.86 412.81)"/>
<use href="#gA" fill="#f5861f" transform="matrix(0.00770 0 0 0.02005 187.22 359.1)"/>
<use href="#gT" fill="#f5861f" transform="matrix(0.00770 0 0 0.02239 187.22 379.15)"/>
<use href="#gG" fill="#177571" transform="matrix(0.00770 0 0 0.00834 187.22 401.54)"/>
<use href="#gC" fill="#177571" transform="matrix(0.00770 0 0 0.00732 187.22 409.88)"/>
<use href="#gT" fill="#f5861f" transform="matrix(0.00770 0 0 0.02049 195.58 359.1)"/>
<use href="#gA" fill="#f5861f" transform="matrix(0.00770 0 0 0.02151 195.58 379.59)"/>
<use href="#gG" fill="#177571" transform="matrix(0.00770 0 0 0.00907 195.58 401.1)"/>
<use href="#gC" fill="#177571" transform="matrix(0.00770 0 0 0.00702 195.58 410.17)"/>
<use href="#gT" fill="#f5861f" transform="matrix(0.00770 0 0 0.02781 203.95 359.1)"/>
<use href="#gG" fill="#177571" transform="matrix(0.00770 0 0 0.01024 203.95 386.9)"/>
<use href="#gC" fill="#177571" transform="matrix(0.00770 0 0 0.01083 203.95 397.15)"/>
<use href="#gA" fill="#f5861f" transform="matrix(0.00770 0 0 0.00922 203.95 407.98)"/>
<use href="#gT" fill="#f5861f" transform="matrix(0.00770 0 0 0.02254 212.31 359.1)"/>
<use href="#gA" fill="#f5861f" transform="matrix(0.00770 0 0 0.01654 212.31 381.64)"/>
<use href="#gG" fill="#177571" transform="matrix(0.00770 0 0 0.01098 212.31 398.17)"/>
<use href="#gC" fill="#177571" transform="matrix(0.00770 0 0 0.00805 212.31 409.15)"/>
<use href="#gT" fill="#f5861f" transform="matrix(0.00770 0 0 0.02107 220.67 359.1)"/>
<use href="#gA" fill="#f5861f" transform="matrix(0.00770 0 0 0.01698 220.67 380.17)"/>
<use href="#gG" fill="#177571" transform="matrix(0.00770 0 0 0.01127 220.67 397.15)"/>
<use href="#gC" fill="#177571" transform="matrix(0.00770 0 0 0.00878 220.67 408.42)"/>
<use href="#gT" fill="#f5861f" transform="matrix(0.00770 0 0 0.02327 229.04 359.1)"/>
<use href="#gA" fill="#f5861f" transform="matrix(0.00770 0 0 0.01683 229.04 382.37)"/>
<use href="#gG" fill="#177571" transform="matrix(0.00770 0 0 0.01068 229.04 399.2)"/>
<use href="#gC" fill="#177571" transform="matrix(0.00770 0 0 0.00732 229.04 409.88)"/>
<use href="#gT" fill="#f5861f" transform="matrix(0.00770 0 0 0.02254 237.4 359.1)"/>
<use href="#gA" fill="#f5861f" transform="matrix(0.00770 0 0 0.02093 237.4 381.64)"/>
<use href="#gG" fill="#177571" transform="matrix(0.00770 0 0 0.00907 237.4 402.56)"/>
<use href="#gC" fill="#177571" transform="matrix(0.00770 0 0 0.00556 237.4 411.64)"/>
<use href="#gT" fill="#f5861f" transform="matrix(0.00770 0 0 0.02400 245.76 359.1)"/>
<use href="#gA" fill="#f5861f" transform="matrix(0.00770 0 0 0.01581 245.76 383.1)"/>
<use href="#gG" fill="#177571" transform="matrix(0.00770 0 0 0.01054 245.76 398.9)"/>
<use href="#gC" fill="#177571" transform="matrix(0.00770 0 0 0.00776 245.76 409.44)"/>
<use href="#gT" fill="#f5861f" transform="matrix(0.00770 0 0 0.02254 254.12 359.1)"/>
<use href="#gA" fill="#f5861f" transform="matrix(0.00770 0 0 0.01537 254.12 381.64)"/>
<use href="#gG" fill="#177571" transform="matrix(0.00770 0 0 0.00995 254.12 397)"/>
<use href="#gC" fill="#177571" transform="matrix(0.00770 0 0 0.01024 254.12 406.95)"/>
<use href="#gT" fill="#f5861f" transform="matrix(0.00770 0 0 0.02327 262.49 359.1)"/>
<use href="#gA" fill="#f5861f" transform="matrix(0.00770 0 0 0.01683 262.49 382.37)"/>
<use href="#gG" fill="#177571" transform="matrix(0.00770 0 0 0.01024 262.49 399.2)"/>
<use href="#gC" fill="#177571" transform="matrix(0.00770 0 0 0.00776 262.49 409.44)"/>
<use href="#gA" fill="#f5861f" transform="matrix(0.00770 0 0 0.02181 270.85 359.1)"/>
<use href="#gT" fill="#f5861f" transform="matrix(0.00770 0 0 0.01903 270.85 380.9)"/>
<use href="#gG" fill="#177571" transform="matrix(0.00770 0 0 0.01024 270.85 399.93)"/>
<use href="#gC" fill="#177571" transform="matrix(0.00770 0 0 0.00702 270.85 410.17)"/>
<use href="#gA" fill="#f5861f" transform="matrix(0.00770 0 0 0.01961 279.21 359.1)"/>
<use href="#gT" fill="#f5861f" transform="matrix(0.00770 0 0 0.02122 279.21 378.71)"/>
<use href="#gC" fill="#177571" transform="matrix(0.00770 0 0 0.00951 279.21 399.93)"/>
<use href="#gG" fill="#177571" transform="matrix(0.00770 0 0 0.00776 279.21 409.44)"/>
<use href="#gT" fill="#f5861f" transform="matrix(0.00770 0 0 0.02327 287.58 359.1)"/>
<use href="#gA" fill="#f5861f" transform="matrix(0.00770 0 0 0.01683 287.58 382.37)"/>
<use href="#gG" fill="#177571" transform="matrix(0.00770 0 0 0.01024 287.58 399.2)"/>
<use href="#gC" fill="#177571" transform="matrix(0.00770 0 0 0.00776 287.58 409.44)"/>
<use href="#gT" fill="#f5861f" transform="matrix(0.00770 0 0 0.02327 295.94 359.1)"/>
<use href="#gA" fill="#f5861f" transform="matrix(0.00770 0 0 0.01683 295.94 382.37)"/>
<use href="#gG" fill="#177571" transform="matrix(0.00770 0 0 0.00951 295.94 399.2)"/>
<use href="#gC" fill="#177571" transform="matrix(0.00770 0 0 0.00849 295.94 408.71)"/>
<line x1="44.4" y1="358.2" x2="44.4" y2="419.1" stroke="#4d4242" stroke-width="1.1"/>
<line x1="43.9" y1="419.1" x2="304.2" y2="419.1" stroke="#4d4242" stroke-width="1.1"/>
<line x1="40.9" y1="419.1" x2="44.4" y2="419.1" stroke="#4d4242" stroke-width="0.9"/>
<line x1="42.4" y1="413.06" x2="44.4" y2="413.06" stroke="#4d4242" stroke-width="0.9"/>
<line x1="42.4" y1="407.02" x2="44.4" y2="407.02" stroke="#4d4242" stroke-width="0.9"/>
<line x1="42.4" y1="400.98" x2="44.4" y2="400.98" stroke="#4d4242" stroke-width="0.9"/>
<line x1="42.4" y1="394.94" x2="44.4" y2="394.94" stroke="#4d4242" stroke-width="0.9"/>
<line x1="40.9" y1="388.9" x2="44.4" y2="388.9" stroke="#4d4242" stroke-width="0.9"/>
<line x1="42.4" y1="382.86" x2="44.4" y2="382.86" stroke="#4d4242" stroke-width="0.9"/>
<line x1="42.4" y1="376.82" x2="44.4" y2="376.82" stroke="#4d4242" stroke-width="0.9"/>
<line x1="42.4" y1="370.78" x2="44.4" y2="370.78" stroke="#4d4242" stroke-width="0.9"/>
<line x1="42.4" y1="364.74" x2="44.4" y2="364.74" stroke="#4d4242" stroke-width="0.9"/>
<line x1="40.9" y1="358.7" x2="44.4" y2="358.7" stroke="#4d4242" stroke-width="0.9"/>
<line x1="48.9" y1="419.1" x2="48.9" y2="420.9" stroke="#4d4242" stroke-width="0.8"/>
<line x1="57.26" y1="419.1" x2="57.26" y2="420.9" stroke="#4d4242" stroke-width="0.8"/>
<line x1="65.63" y1="419.1" x2="65.63" y2="420.9" stroke="#4d4242" stroke-width="0.8"/>
<line x1="73.99" y1="419.1" x2="73.99" y2="420.9" stroke="#4d4242" stroke-width="0.8"/>
<line x1="82.35" y1="419.1" x2="82.35" y2="420.9" stroke="#4d4242" stroke-width="0.8"/>
<line x1="90.72" y1="419.1" x2="90.72" y2="420.9" stroke="#4d4242" stroke-width="0.8"/>
<line x1="99.08" y1="419.1" x2="99.08" y2="420.9" stroke="#4d4242" stroke-width="0.8"/>
<line x1="107.44" y1="419.1" x2="107.44" y2="420.9" stroke="#4d4242" stroke-width="0.8"/>
<line x1="115.8" y1="419.1" x2="115.8" y2="420.9" stroke="#4d4242" stroke-width="0.8"/>
<line x1="124.17" y1="419.1" x2="124.17" y2="420.9" stroke="#4d4242" stroke-width="0.8"/>
<line x1="132.53" y1="419.1" x2="132.53" y2="420.9" stroke="#4d4242" stroke-width="0.8"/>
<line x1="140.89" y1="419.1" x2="140.89" y2="420.9" stroke="#4d4242" stroke-width="0.8"/>
<line x1="149.26" y1="419.1" x2="149.26" y2="420.9" stroke="#4d4242" stroke-width="0.8"/>
<line x1="157.62" y1="419.1" x2="157.62" y2="420.9" stroke="#4d4242" stroke-width="0.8"/>
<line x1="165.98" y1="419.1" x2="165.98" y2="420.9" stroke="#4d4242" stroke-width="0.8"/>
<line x1="174.34" y1="419.1" x2="174.34" y2="420.9" stroke="#4d4242" stroke-width="0.8"/>
<line x1="182.71" y1="419.1" x2="182.71" y2="420.9" stroke="#4d4242" stroke-width="0.8"/>
<line x1="191.07" y1="419.1" x2="191.07" y2="420.9" stroke="#4d4242" stroke-width="0.8"/>
<line x1="199.43" y1="419.1" x2="199.43" y2="420.9" stroke="#4d4242" stroke-width="0.8"/>
<line x1="207.8" y1="419.1" x2="207.8" y2="420.9" stroke="#4d4242" stroke-width="0.8"/>
<line x1="216.16" y1="419.1" x2="216.16" y2="420.9" stroke="#4d4242" stroke-width="0.8"/>
<line x1="224.52" y1="419.1" x2="224.52" y2="420.9" stroke="#4d4242" stroke-width="0.8"/>
<line x1="232.89" y1="419.1" x2="232.89" y2="420.9" stroke="#4d4242" stroke-width="0.8"/>
<line x1="241.25" y1="419.1" x2="241.25" y2="420.9" stroke="#4d4242" stroke-width="0.8"/>
<line x1="249.61" y1="419.1" x2="249.61" y2="420.9" stroke="#4d4242" stroke-width="0.8"/>
<line x1="257.97" y1="419.1" x2="257.97" y2="420.9" stroke="#4d4242" stroke-width="0.8"/>
<line x1="266.34" y1="419.1" x2="266.34" y2="420.9" stroke="#4d4242" stroke-width="0.8"/>
<line x1="274.7" y1="419.1" x2="274.7" y2="420.9" stroke="#4d4242" stroke-width="0.8"/>
<line x1="283.06" y1="419.1" x2="283.06" y2="420.9" stroke="#4d4242" stroke-width="0.8"/>
<line x1="291.43" y1="419.1" x2="291.43" y2="420.9" stroke="#4d4242" stroke-width="0.8"/>
<line x1="299.79" y1="419.1" x2="299.79" y2="420.9" stroke="#4d4242" stroke-width="0.8"/>
<text x="39.2" y="422.3" font-size="9" fill="#555" text-anchor="end">0.0</text>
<text x="39.2" y="392.1" font-size="9" fill="#555" text-anchor="end">0.5</text>
<text x="39.2" y="361.9" font-size="9" fill="#555" text-anchor="end">1.0</text>
<text x="49.7" y="429.2" font-size="8.5" fill="#555" text-anchor="middle">-15</text>
<text x="91.52" y="429.2" font-size="8.5" fill="#555" text-anchor="middle">-10</text>
<text x="133.33" y="429.2" font-size="8.5" fill="#555" text-anchor="middle">-5</text>
<text x="174.34" y="429.2" font-size="8.5" fill="#555" text-anchor="middle">0</text>
<text x="216.16" y="429.2" font-size="8.5" fill="#555" text-anchor="middle">5</text>
<text x="257.97" y="429.2" font-size="8.5" fill="#555" text-anchor="middle">10</text>
<text x="299.79" y="429.2" font-size="8.5" fill="#555" text-anchor="middle">15</text>
<text transform="translate(21.8 388.9) rotate(-90)" font-size="10.4" fill="#555" text-anchor="middle">probability</text>
<text x="47.1" y="351.3" font-size="8.8" font-weight="bold" fill="#333">hADAR2</text>
<rect x="154.1" y="251.7" width="32.7" height="181.6" fill="none" stroke="#111" stroke-width="1.3" stroke-dasharray="2 1.6"/>
<text x="174.1" y="445.3" font-size="10.6" fill="#444" text-anchor="middle">Location relative to the editing site</text>
<text x="319.4" y="245.3" font-size="14.3" font-weight="bold" fill="#111">D</text>
<rect x="355.4" y="249.3" width="188" height="170.2" fill="none" stroke="#2b2b2b" stroke-width="1.3"/>
<clipPath id="clipD"><rect x="355.4" y="249.3" width="188" height="170.2"/></clipPath>
<line x1="355.4" y1="419.5" x2="543.4" y2="249.3" stroke="#222" stroke-width="1.1" stroke-dasharray="11.5 11.4" stroke-dashoffset="3.8" transform="translate(0 0.3)" clip-path="url(#clipD)"/>
<circle cx="398.2" cy="254.1" r="2" fill="#2e2e2e"/>
<circle cx="385.0" cy="330.9" r="2" fill="#2e2e2e"/>
<circle cx="382.1" cy="339.9" r="2" fill="#2e2e2e"/>
<circle cx="421.8" cy="343.9" r="2" fill="#2e2e2e"/>
<circle cx="376.1" cy="353.4" r="2" fill="#2e2e2e"/>
<circle cx="374.1" cy="367.6" r="2" fill="#2e2e2e"/>
<circle cx="376.3" cy="365.2" r="2" fill="#2e2e2e"/>
<circle cx="386.7" cy="364.0" r="2" fill="#2e2e2e"/>
<circle cx="426.4" cy="367.9" r="2" fill="#2e2e2e"/>
<circle cx="395.9" cy="376.2" r="2" fill="#2e2e2e"/>
<circle cx="413.1" cy="379.2" r="2" fill="#2e2e2e"/>
<circle cx="424.9" cy="378.6" r="2" fill="#2e2e2e"/>
<circle cx="436.9" cy="378.3" r="2" fill="#2e2e2e"/>
<circle cx="437.2" cy="378.5" r="2" fill="#2e2e2e"/>
<circle cx="400.1" cy="382.1" r="2" fill="#2e2e2e"/>
<circle cx="393.1" cy="384.2" r="2" fill="#2e2e2e"/>
<circle cx="380.3" cy="386.5" r="2" fill="#2e2e2e"/>
<circle cx="384.1" cy="386.5" r="2" fill="#2e2e2e"/>
<circle cx="377.0" cy="389.7" r="2" fill="#2e2e2e"/>
<circle cx="389.0" cy="389.2" r="2" fill="#2e2e2e"/>
<circle cx="385.2" cy="392.5" r="2" fill="#2e2e2e"/>
<circle cx="381.9" cy="393.5" r="2" fill="#2e2e2e"/>
<circle cx="380.6" cy="394.6" r="2" fill="#2e2e2e"/>
<circle cx="375.9" cy="396.3" r="2" fill="#2e2e2e"/>
<circle cx="385.2" cy="397.9" r="2" fill="#2e2e2e"/>
<circle cx="383.0" cy="399.5" r="2" fill="#2e2e2e"/>
<circle cx="380.3" cy="401.2" r="2" fill="#2e2e2e"/>
<circle cx="398.0" cy="397.4" r="2" fill="#2e2e2e"/>
<circle cx="404.8" cy="400.6" r="2" fill="#2e2e2e"/>
<circle cx="412.1" cy="396.8" r="2" fill="#2e2e2e"/>
<circle cx="483.2" cy="331.9" r="2" fill="#2e2e2e"/>
<circle cx="459.3" cy="388.6" r="2" fill="#2e2e2e"/>
<circle cx="449.2" cy="400.3" r="2" fill="#2e2e2e"/>
<text x="350" y="422.7" font-size="9" fill="#4f4f4f" text-anchor="end">0</text>
<text x="356" y="429.5" font-size="9" fill="#4f4f4f" text-anchor="middle">0</text>
<text x="352.3" y="388.66" font-size="9" fill="#4f4f4f" text-anchor="end">0.2</text>
<text x="395" y="429.5" font-size="9" fill="#4f4f4f" text-anchor="middle">0.2</text>
<text x="352.3" y="354.62" font-size="9" fill="#4f4f4f" text-anchor="end">0.4</text>
<text x="432.6" y="429.5" font-size="9" fill="#4f4f4f" text-anchor="middle">0.4</text>
<text x="352.3" y="320.58" font-size="9" fill="#4f4f4f" text-anchor="end">0.6</text>
<text x="470.2" y="429.5" font-size="9" fill="#4f4f4f" text-anchor="middle">0.6</text>
<text x="352.3" y="286.54" font-size="9" fill="#4f4f4f" text-anchor="end">0.8</text>
<text x="507.8" y="429.5" font-size="9" fill="#4f4f4f" text-anchor="middle">0.8</text>
<text x="350" y="252.5" font-size="9" fill="#4f4f4f" text-anchor="end">1</text>
<text x="544" y="429.5" font-size="9" fill="#4f4f4f" text-anchor="middle">1</text>
<text x="451.5" y="444.2" font-size="10.3" fill="#444" text-anchor="middle">Editing level, hADAR1</text>
<text transform="translate(331.6 334.9) rotate(-90)" font-size="10.5" fill="#444" text-anchor="middle">Editing level, hADAR2</text>
</svg>
</body></html>
